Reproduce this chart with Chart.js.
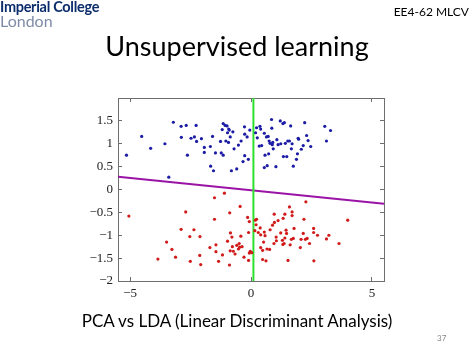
<!DOCTYPE html>
<html>
<head>
<meta charset="utf-8">
<script src="https://cdn.jsdelivr.net/npm/chart.js@4.4.1/dist/chart.umd.min.js"></script>
<style>
  html, body { margin: 0; padding: 0; background: #fff; }
  #slide { position: relative; width: 474px; height: 355px; overflow: hidden; background: #fff; }
  #wrap { position: absolute; left: 0; top: 0; width: 474px; height: 355px; }
  .t { position: absolute; white-space: nowrap; font-family: Lato, "Open Sans", sans-serif; color: #000; }
</style>
</head>
<body>
<div id="slide">
  <div id="wrap"><canvas id="c"></canvas></div>
  <div class="t" style="left:0px;top:-2px;font-size:14.5px;font-weight:bold;color:#0b2d6b;letter-spacing:-0.3px;">Imperial College</div>
  <div class="t" style="left:0px;top:11px;font-size:16px;color:#7f8ca8;">London</div>
  <div class="t" style="right:5px;top:4px;font-size:12px;">EE4-62 MLCV</div>
  <div class="t" style="left:0;width:474px;text-align:center;top:29px;font-size:27px;">Unsupervised learning</div>
  <div class="t" style="left:0;width:474px;text-align:center;top:310px;font-size:17px;">PCA vs LDA (Linear Discriminant Analysis)</div>
  <div class="t" style="left:437px;top:333px;font-size:8px;color:#888;">37</div>
</div>
<script>
const blueClass = [
  [-5.15,0.75],[-4.52,1.16],[-4.15,0.90],[-3.56,1.00],[-3.40,0.27],[-3.21,1.47],[-2.89,1.38],[-2.88,1.14],
  [-2.68,1.40],[-2.63,0.75],[-2.48,1.12],[-2.34,1.15],[-2.27,1.40],[-2.25,1.05],[-2.05,1.11],[-1.93,0.92],
  [-1.93,0.81],[-1.68,0.94],[-1.67,0.51],[-1.59,1.16],[-1.55,0.41],[-1.47,0.80],[-1.26,1.05],[-1.23,0.80],
  [-1.19,1.31],[-1.15,1.44],[-1.15,0.75],[-1.07,1.40],[-1.04,1.06],[-0.99,1.39],[-0.97,1.24],[-0.93,1.03],
  [-0.92,1.32],[-0.90,1.30],[-0.86,1.15],[-0.81,0.41],[-0.75,1.26],[-0.70,0.89],[-0.59,0.45],[-0.52,0.97],
  [-0.41,1.06],[-0.33,0.61],[-0.27,1.37],[-0.26,1.21],[-0.26,0.74],[-0.16,1.15],[-0.11,0.66],[-0.05,1.30],
  [0.19,1.24],[0.23,1.35],[0.26,1.13],[0.34,0.95],[0.37,1.38],[0.40,1.32],[0.44,0.96],[0.55,1.23],
  [0.55,0.48],[0.64,1.15],[0.58,0.75],[0.67,0.52],[0.71,1.16],[0.73,0.78],[0.75,1.06],[0.79,1.01],
  [0.85,1.53],[0.86,1.34],[0.88,0.98],[0.90,1.03],[0.92,0.89],[1.03,0.50],[1.07,1.09],[1.12,0.98],
  [1.21,1.50],[1.23,1.00],[1.32,1.44],[1.34,0.72],[1.38,1.46],[1.42,1.01],[1.48,0.72],[1.52,1.06],
  [1.59,1.06],[1.64,1.39],[1.67,0.89],[1.70,1.00],[1.75,0.51],[1.88,0.66],[1.92,0.78],[1.95,1.12],
  [1.97,1.10],[2.08,0.88],[2.16,0.96],[2.22,1.46],[2.30,1.18],[2.36,1.07],[2.47,0.94],[3.05,1.38],
  [3.12,1.06],[3.29,1.29]
];
const redClass = [
  [-1.51,-0.18],[-1.10,-0.08],[2.27,-0.27],[-5.05,-0.58],[-2.70,-0.49],[-0.88,-0.51],[-0.45,-0.37],[-1.51,-0.65],
  [-2.89,-0.87],[-2.36,-0.88],[-3.49,-1.15],[-3.27,-1.31],[-3.85,-1.52],[-3.12,-1.48],[-2.53,-1.03],[-2.11,-1.03],
  [-2.51,-1.57],[-2.12,-1.44],[-2.08,-1.64],[-1.70,-1.27],[-1.45,-1.21],[-1.45,-1.36],[-1.34,-1.57],[-1.18,-1.43],
  [-0.97,-1.13],[-0.89,-1.65],[-0.85,-0.95],[-0.79,-1.04],[-0.86,-1.34],[-0.77,-1.25],[-0.73,-1.35],[-0.66,-1.41],
  [-0.59,-1.22],[-0.49,-1.18],[-0.47,-1.26],[-0.52,-1.30],[-0.42,-1.02],[-0.29,-1.48],[-0.37,-1.25],[-0.14,-0.61],
  [-0.10,-1.55],[-0.10,-0.94],[-0.07,-0.70],[-0.07,-1.39],[-0.03,-1.35],[0.03,-1.38],[0.16,-0.90],[0.18,-0.67],
  [0.21,-0.77],[0.23,-0.65],[0.30,-0.94],[0.38,-0.84],[0.40,-0.99],[0.40,-1.27],[0.48,-1.53],[0.48,-1.33],
  [0.52,-1.15],[0.55,-0.93],[0.58,-1.01],[0.62,-1.56],[0.66,-1.30],[0.77,-1.31],[0.79,-0.88],[0.89,-0.78],
  [0.95,-1.18],[0.96,-0.54],[0.97,-0.72],[1.04,-1.04],[1.05,-1.12],[1.12,-0.68],[1.23,-0.95],[1.30,-1.11],
  [1.32,-1.20],[1.33,-0.63],[1.37,-1.18],[1.40,-0.54],[1.40,-1.06],[1.45,-0.89],[1.47,-0.96],[1.53,-1.55],
  [1.59,-0.38],[1.62,-1.21],[1.67,-1.09],[1.70,-0.49],[1.70,-0.57],[1.75,-1.07],[1.78,-0.85],[2.04,-1.27],
  [2.07,-1.09],[2.16,-0.96],[2.19,-0.65],[2.25,-1.09],[2.32,-1.07],[2.42,-1.18],[2.59,-0.85],[2.59,-0.94],
  [2.60,-1.56],[2.75,-1.00],[3.12,-1.08],[3.22,-1.00],[3.64,-1.18],[4.00,-0.67]
];
const greenLine = [[0.1,-2],[0.1,2]];
const purpleLine = [[-5.5,0.28],[5.5,-0.31]];
const xRange = [-5.5, 5.5];
const yRange = [-2, 2];
const xTicks = [-5, 0, 5];
const xTickLabels = ['\u22125', '0', '5'];
const yTicks = [-2, -1.5, -1, -0.5, 0, 0.5, 1, 1.5];
const yTickLabels = ['\u22122', '\u22121.5', '\u22121', '\u22120.5', '0', '0.5', '1', '1.5'];

const toXY = a => a.map(p => ({x: p[0], y: p[1]}));
const frame = '#6e6e6e';
const tickFont = {family: '"Liberation Serif", "DejaVu Serif", serif', size: 13};

function axis(pos, axisKey, showLabels, ticks, labels, range, fitSize) {
  return {
    type: 'linear', position: pos, axis: axisKey,
    min: range[0], max: range[1],
    afterBuildTicks: s => { s.ticks = ticks.map(v => ({value: v})); },
    afterFit: s => { if (axisKey === 'x') s.height = fitSize; else s.width = fitSize; },
    grid: {drawOnChartArea: false, drawTicks: true, tickLength: -4, color: frame, lineWidth: 1},
    border: {display: true, color: frame, width: 1},
    ticks: {
      display: showLabels, color: '#222', font: tickFont,
      padding: 9,
      maxRotation: 0, autoSkip: false,
      callback: (v, i) => labels[i]
    }
  };
}

new Chart(document.getElementById('c'), {
  type: 'scatter',
  data: {
    datasets: [
      {data: toXY(blueClass), backgroundColor: '#1b1ba6', borderWidth: 0, pointRadius: 1.6, xAxisID: 'x', yAxisID: 'y'},
      {data: toXY(redClass), backgroundColor: '#d11b1b', borderWidth: 0, pointRadius: 1.6, xAxisID: 'x', yAxisID: 'y'},
      {type: 'line', data: toXY(greenLine), borderColor: '#2ee02e', borderWidth: 2, pointRadius: 0, fill: false, xAxisID: 'x', yAxisID: 'y'},
      {type: 'line', data: toXY(purpleLine), borderColor: '#9a12a6', borderWidth: 2, pointRadius: 0, fill: false, xAxisID: 'x', yAxisID: 'y'}
    ]
  },
  options: {
    responsive: true, maintainAspectRatio: false, animation: false,
    layout: {padding: {left: 80, right: 90, top: 98, bottom: 54}},
    plugins: {legend: {display: false}, tooltip: {enabled: false}},
    scales: {
      x: axis('bottom', 'x', true, xTicks, xTickLabels, xRange, 20),
      y: axis('left', 'y', true, yTicks, yTickLabels, yRange, 38),
      x2: axis('top', 'x', false, xTicks, xTickLabels, xRange, 0),
      y2: axis('right', 'y', false, yTicks, yTickLabels, yRange, 0)
    }
  }
});
</script>
</body>
</html>
